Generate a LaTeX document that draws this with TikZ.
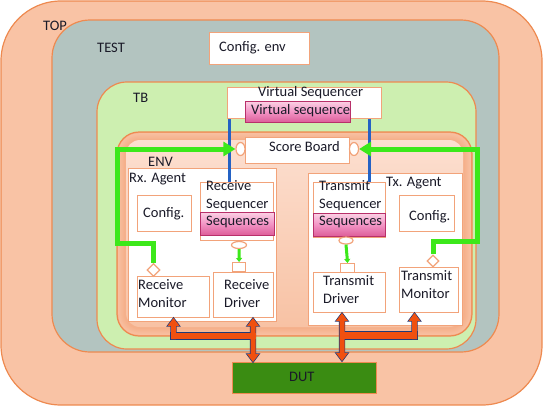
\documentclass[tikz,border=0pt]{standalone}
\usepackage{fontspec}
\setmainfont{Carlito}
\usetikzlibrary{arrows.meta,shapes.geometric}
\definecolor{topfill}{HTML}{F9C3A5}
\definecolor{edge}{HTML}{EE8A50}
\definecolor{testfill}{HTML}{B3C4C0}
\definecolor{tbfill}{HTML}{CDEFB0}
\definecolor{envout}{HTML}{F5AE88}
\definecolor{envtop}{HTML}{FCDFD0}
\definecolor{envbot}{HTML}{F8C2A4}
\definecolor{boxedge}{HTML}{F2A37A}
\definecolor{pinktop}{HTML}{FBD0E4}
\definecolor{pinkmid}{HTML}{F293C4}
\definecolor{pinkbot}{HTML}{DC5C98}
\definecolor{pinkedge}{HTML}{B8306A}
\definecolor{gline}{HTML}{3CE81A}
\definecolor{bline}{HTML}{2462C4}
\definecolor{dutfill}{HTML}{3A8C12}
\definecolor{arrfill}{HTML}{F0500F}
\definecolor{arredge}{HTML}{1E3A7A}
\definecolor{txt}{HTML}{1A1A28}
\begin{document}
\begin{tikzpicture}[x=1pt,y=-1pt,
  font=\fontsize{14.5}{17.5}\selectfont,
  layer/.style={draw=edge,line width=1.2pt},
  wbox/.style={draw=boxedge,fill=white,line width=1.4pt,inner sep=0pt,anchor=north west},
  pbox/.style={draw=pinkedge,line width=0.9pt,inner sep=0pt,anchor=north west,
     top color=pinktop,bottom color=pinkbot,middle color=pinkmid},
  lbl/.style={inner sep=0pt,text=txt},
  gthick/.style={draw=gline,line width=5pt},
  gthin/.style={draw=gline,line width=3pt},
  bluel/.style={draw=bline,line width=3pt},
  small/.style={draw=boxedge,fill=white,line width=1.2pt,inner sep=0pt},
  arrline/.style={draw=arredge,line width=1.4pt,fill=arrfill,line join=miter},
  arrfillonly/.style={fill=arrfill},
]
\useasboundingbox (0,0) rectangle (544,408);
\fill[white] (0,0) rectangle (544,408);
% layers
\path[layer,fill=topfill,rounded corners=60pt] (1,1) rectangle (542,405);
\path[layer,fill=testfill,rounded corners=38pt] (52,20) rectangle (499,352);
\path[layer,fill=tbfill,rounded corners=30pt] (97,82) rectangle (476,349);
\path[layer,fill=envout,rounded corners=22pt] (117,132) rectangle (472,336);
\foreach \i/\c in {1/85,2/70,3/55,4/40,5/25,6/10}{
  \fill[envbot!\c!envout,rounded corners={22pt-1.2pt*\i}] (117+1.2*\i,132+1.2*\i) rectangle (472-1.2*\i,336-1.2*\i);
}
\shade[top color=envtop,bottom color=envbot,rounded corners=14pt] (126,140) rectangle (463,327);

\node[lbl,anchor=west] (ltop) at (43,26) {TOP};
\node[lbl,anchor=west] (ltest) at (97,48) {TEST};
\node[lbl,anchor=west] (ltb) at (133,98) {TB};
\node[lbl,anchor=west] (lenv) at (148,162) {ENV};

% config env
\node[wbox,minimum width=100pt,minimum height=32pt] (cfgenv) at (209,32) {};
\node[lbl,anchor=mid west] (tcfgenv) at (219,49) {Config. env};

% virtual sequencer
\node[wbox,minimum width=154pt,minimum height=31pt] (vs) at (227,87) {};
\node[lbl,anchor=mid west] (tvs) at (258,94) {Virtual Sequencer};
\node[pbox,minimum width=105pt,minimum height=21pt] (vseq) at (245,101) {};
\node[lbl,anchor=mid west] (tvseq) at (251,112) {Virtual sequence};

% score board
\node[wbox,minimum width=104pt,minimum height=26pt] (sb) at (245,137) {};
\node[lbl,anchor=mid west] (tsb) at (269,149) {Score Board};
\node[small,ellipse,minimum width=9pt,minimum height=13pt] (sbl) at (240.5,149) {};
\node[small,ellipse,minimum width=9pt,minimum height=13pt] (sbr) at (354,149) {};

% Rx agent
\node[wbox,minimum width=148pt,minimum height=153pt] (rxa) at (128,168) {};
\node[lbl,anchor=mid west] (trxa) at (129,180) {Rx. Agent};
\node[wbox,minimum width=54pt,minimum height=36pt] (rxcfg) at (137,195) {};
\node[lbl,anchor=mid west] (trxcfg) at (143,215) {Config.};
\node[wbox,minimum width=73pt,minimum height=58pt] (rseq) at (200,182) {};
\node[lbl,anchor=mid west] (trseq1) at (206,188) {Receive};
\node[lbl,anchor=mid west] (trseq2) at (206,206) {Sequencer};
\node[pbox,minimum width=74pt,minimum height=23pt] (rseqs) at (200,212) {};
\node[lbl,anchor=mid west] (trseqs) at (206,223) {Sequences};
\node[wbox,minimum width=72pt,minimum height=41pt] (rmon) at (137,276) {};
\node[lbl,anchor=mid west] (trmon1) at (138,287) {Receive};
\node[lbl,anchor=mid west] (trmon2) at (138,305) {Monitor};
\node[wbox,minimum width=60pt,minimum height=45pt] (rdrv) at (213,272) {};
\node[lbl,anchor=mid west] (trdrv1) at (224,287) {Receive};
\node[lbl,anchor=mid west] (trdrv2) at (224,305) {Driver};
\node[small,ellipse,minimum width=15pt,minimum height=7pt] (rell) at (239,245) {};
\node[small,anchor=north west,minimum width=13pt,minimum height=9pt] (rsq) at (232,262) {};
\node[small,diamond,minimum width=13pt,minimum height=13pt] (rdia) at (153.5,270) {};

% Tx agent
\node[wbox,minimum width=154pt,minimum height=152pt] (txa) at (308,173) {};
\node[lbl,anchor=mid west] (ttxa) at (386,184) {Tx. Agent};
\node[wbox,minimum width=55pt,minimum height=36pt] (txcfg) at (399,195) {};
\node[lbl,anchor=mid west] (ttxcfg) at (409,218) {Config.};
\node[wbox,minimum width=72pt,minimum height=55pt] (tseq) at (313,182) {};
\node[lbl,anchor=mid west] (ttseq1) at (319,188) {Transmit};
\node[lbl,anchor=mid west] (ttseq2) at (319,206) {Sequencer};
\node[pbox,minimum width=72pt,minimum height=23pt] (tseqs) at (313,213) {};
\node[lbl,anchor=mid west] (ttseqs) at (319,223) {Sequences};
\node[wbox,minimum width=72pt,minimum height=40pt] (tdrv) at (313,272) {};
\node[lbl,anchor=mid west] (ttdrv1) at (323,283) {Transmit};
\node[lbl,anchor=mid west] (ttdrv2) at (323,301) {Driver};
\node[wbox,minimum width=59pt,minimum height=45pt] (tmon) at (399,267) {};
\node[lbl,anchor=mid west] (ttmon1) at (401,278) {Transmit};
\node[lbl,anchor=mid west] (ttmon2) at (401,296) {Monitor};
\node[small,ellipse,minimum width=14pt,minimum height=7pt] (tell) at (346,240.5) {};
\node[small,anchor=north west,minimum width=14pt,minimum height=9pt] (tsq) at (340,263) {};
\node[small,diamond,minimum width=12pt,minimum height=12pt] (tdia) at (433,261) {};

% DUT
\node[draw=edge,line width=1.2pt,fill=dutfill,anchor=north west,minimum width=144pt,minimum height=31pt,inner sep=0pt] (dut) at (232,362) {};
\node[lbl,anchor=west] (tdut) at (289,377) {DUT};

% blue lines
\coordinate (bl) at (229,0);
\coordinate (br) at (369,0);
\draw[bluel] (vs.south -| bl) -- (rseq.north -| bl);
\draw[bluel] (vs.south -| br) -- (tseq.north -| br);

% small green arrows
\draw[gthin,-{Triangle[length=4pt,width=6pt]}] (rell.south) -- (rsq.north);
\draw[gthin,-{Triangle[length=4pt,width=6pt]}] (tell.south) -- (tsq.north);

% thick green lines
\coordinate (gl1) at (117,243);
\coordinate (gr1) at (477,241);
\draw[gthick,line join=miter,-{Triangle[length=12pt,width=14pt]}] (rdia.north) |- (gl1) |- (sbl.west);
\draw[gthick,line join=miter,-{Triangle[length=12pt,width=14pt]}] (tdia.north) |- (gr1) |- (sbr.east);

% orange arrows (outline pass, then fill pass)
\foreach \st in {arrline,arrfillonly}{
  \path[\st] (253,318) -- (259,326) -- (255.5,326) -- (255.5,354) -- (259,354) -- (253,362)
     -- (247,354) -- (250.5,354) -- (250.5,326) -- (247,326) -- cycle;
  \path[\st] (171,333) rectangle (255.5,339);
  \path[\st] (173.5,318) -- (179.5,326) -- (176,326) -- (176,339) -- (171,339) -- (171,326)
     -- (167.5,326) -- cycle;
  \path[\st] (342,313) -- (348,321) -- (344.5,321) -- (344.5,353) -- (348,353) -- (342,361)
     -- (336,353) -- (339.5,353) -- (339.5,321) -- (336,321) -- cycle;
  \path[\st] (339.5,332) rectangle (417,339);
  \path[\st] (414.5,313) -- (420.5,321) -- (417,321) -- (417,339) -- (412,339) -- (412,321)
     -- (408.5,321) -- cycle;
}
\end{tikzpicture}
\end{document}
